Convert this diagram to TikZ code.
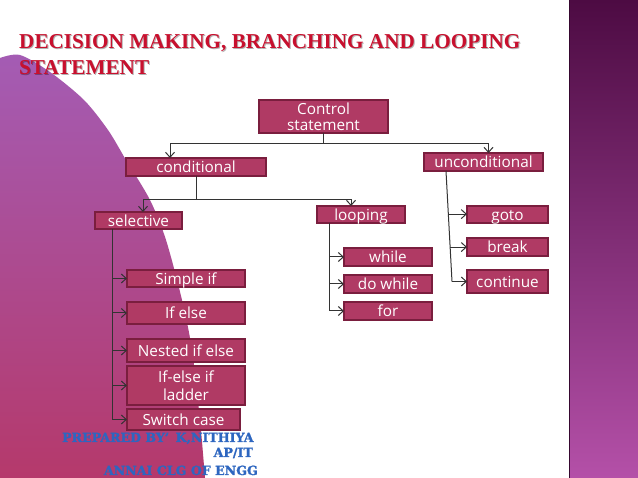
\documentclass[tikz,border=0pt]{standalone}
\usepackage{fontspec}
\setmainfont{Liberation Serif}
\newfontfamily\boxfont{Open Sans}
\newfontfamily\titlefont{Liberation Serif}
\newfontfamily\footfont[BoldFeatures={FakeBold=1.5}]{DejaVu Serif}
\usetikzlibrary{arrows.meta,calc}
\definecolor{boxfill}{HTML}{B03A64}
\definecolor{boxedge}{HTML}{7A1E3E}
\definecolor{titlered}{HTML}{C8102E}
\definecolor{footblue}{HTML}{2D66C0}
\definecolor{linegray}{HTML}{333333}
\definecolor{blobtop}{HTML}{A45CB4}
\definecolor{blobbot}{HTML}{B5396B}
\definecolor{bandtop}{HTML}{4D0B43}
\definecolor{bandbot}{HTML}{B450A8}
\begin{document}
\begin{tikzpicture}[x=1pt,y=-1pt,
  box/.style={draw=boxedge, fill=boxfill, line width=1.5pt, text=white,
    font=\boxfont\fontsize{15.3}{18}\selectfont, inner sep=0pt, outer sep=0pt},
  one/.style={text height=12pt, text depth=0pt},
  bw/.style 2 args={minimum width=#1pt, minimum height=#2pt},
  ln/.style={draw=linegray, line width=1pt},
  arr/.style={draw=linegray, line width=1pt, -{Straight Barb[length=5pt,width=9pt]}},
  ttl/.style={anchor=base west, inner sep=0pt, font=\titlefont\bfseries\fontsize{21.2}{25}\selectfont},
  foot/.style={inner sep=0pt, text=footblue, font=\footfont\bfseries\fontsize{12.6}{15}\selectfont}]
\useasboundingbox (0,0) rectangle (638,478);
\fill[white] (0,0) rectangle (638,478);
% background shapes
\shade[top color=blobtop, bottom color=blobbot]
  plot[smooth] coordinates {(0,58) (20,55) (50,72) (84,100) (108,130) (126,160) (150,200) (166,240) (182,300) (192,350) (200,420) (205,478)}
  -- (0,478) -- cycle;
\shade[top color=bandtop, bottom color=bandbot] (569,0) rectangle (638,478);
\draw[bandtop!70!black, line width=1pt] (569.5,0) -- (569.5,478);
% title
\node[ttl, text=black, opacity=0.3] (t1s) at (20,50) {DECISION MAKING, BRANCHING AND LOOPING};
\node[ttl, text=black, opacity=0.3] (t2s) at (20,76) {STATEMENT};
\node[ttl, text=titlered] (t1) at (19,49) {DECISION MAKING, BRANCHING AND LOOPING};
\node[ttl, text=titlered] (t2) at (19,75) {STATEMENT};
% boxes
\node[box,align=center,bw={129}{33}] (ctrl) at (323.5,116.5) {Control\\[-2pt]statement};
\node[box,one,bw={140}{18}] (cond) at (196,167) {conditional};
\node[box,one,bw={119}{18}] (uncond) at (483.5,162) {unconditional};
\node[box,one,bw={87}{17}] (sel) at (138.5,220.5) {selective};
\node[box,one,bw={88}{17}] (loop) at (361,214.5) {looping};
\node[box,one,bw={81}{17}] (goto) at (507.5,214.5) {goto};
\node[box,one,bw={81}{18}] (brk) at (507.5,247) {break};
\node[box,one,bw={81}{23}] (cont) at (507.5,281.5) {continue};
\node[box,one,bw={88}{18}] (wh) at (388,257) {while};
\node[box,one,bw={88}{18}] (dow) at (388,284) {do while};
\node[box,one,bw={88}{18}] (forb) at (388,311) {for};
\node[box,one,bw={118}{17}] (simp) at (186,278.5) {Simple if};
\node[box,one,bw={118}{22}] (ife) at (186,313) {If else};
\node[box,one,bw={118}{23}] (nest) at (186,350.5) {Nested if else};
\node[box,align=center,bw={118}{39}] (lad) at (186,385.5) {If-else if\\ladder};
\node[box,one,bw={113}{21}] (sw) at (183.5,419.5) {Switch case};
% connectors: control statement
\draw[ln] (ctrl.south) -- ++(0,11) coordinate (j1);
\draw[arr] (j1) -| ([xshift=44pt]cond.north west);
\draw[arr] (j1) -| ([xshift=64.5pt]uncond.north west);
% conditional
\draw[ln] (cond.south) -- ++(0,24) coordinate (j2);
\draw[arr] (j2) -| ([xshift=48pt]sel.north west);
\draw[arr] (j2) -| ([xshift=34pt]loop.north west);
% selective
\coordinate (sv) at ([xshift=17pt]sel.south west);
\draw[arr] (sv) |- (sw.west);
\foreach \n in {simp,ife,nest,lad} \draw[arr] (sv |- \n.west) -- (\n.west);
% looping
\coordinate (lv) at ([xshift=12pt]loop.south west);
\draw[arr] (lv) |- (forb.west);
\foreach \n in {wh,dow} \draw[arr] (lv |- \n.west) -- (\n.west);
% unconditional
\coordinate (uv) at ([xshift=22pt]uncond.south west);
\coordinate (ue) at ([xshift=-15pt]cont.west);
\draw[ln] (uv) -- (ue);
\draw[arr] (ue) -- (cont.west);
\coordinate (ug) at ($(uv)!0.39!(ue)$);
\coordinate (ub) at ($(uv)!0.688!(ue)$);
\draw[arr] (ug) -- (ug -| goto.west);
\draw[arr] (ub) -- (ub -| brk.west);
% footer
\node[foot, anchor=base west] (f1) at (62,442) {PREPARED BY’\hspace{2pt} K,NITHIYA};
\node[foot, anchor=base east] (f2) at (253,457) {AP/IT};
\node[foot, anchor=base east] (f3) at (258,475) {ANNAI CLG OF ENGG};
\end{tikzpicture}
\end{document}
